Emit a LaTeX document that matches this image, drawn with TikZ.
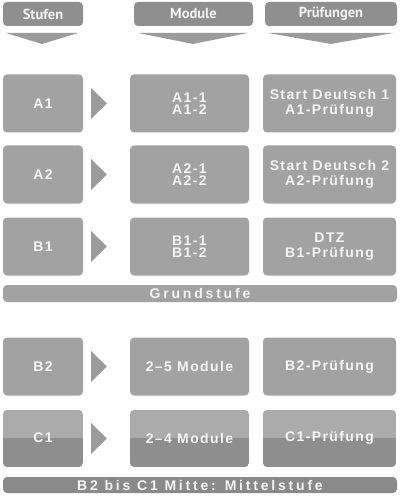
\documentclass[tikz,border=0pt]{standalone}
\usepackage{fontspec}
\setmainfont{Liberation Sans}
\newfontfamily\headfont{PT Sans}
\newfontfamily\bodyfont{Liberation Sans}[LetterSpace=10]
\newfontfamily\barfont{Liberation Sans}[LetterSpace=20]
\definecolor{boxgray}{HTML}{A2A2A2}
\definecolor{headgray}{HTML}{8F8F8F}
\definecolor{trigray}{HTML}{9B9B9B}
\definecolor{ctop}{HTML}{ABABAB}
\definecolor{cbot}{HTML}{8E8E8E}
\definecolor{bardark}{HTML}{8A8A8A}
\definecolor{txt}{HTML}{F4F4F4}
\begin{document}
\begin{tikzpicture}[x=1pt,y=-1pt,
  cell/.style={fill=boxgray,rounded corners=4pt,inner sep=0pt,text=txt,
    align=center,font=\bodyfont\bfseries\fontsize{14}{12.5}\selectfont},
  stcell/.style={cell,minimum width=80pt,minimum height=58pt},
  mocell/.style={cell,minimum width=119pt,minimum height=58pt},
  prcell/.style={cell,minimum width=133pt,minimum height=58pt,
    font=\bodyfont\bfseries\fontsize{14}{14.4}\selectfont},
  head/.style={fill=headgray,rounded corners=4pt,inner sep=0pt,text=txt,
    minimum height=24pt,font=\headfont\bfseries\fontsize{14.5}{14.5}\selectfont},
  bar/.style={fill=boxgray,rounded corners=4pt,inner sep=0pt,text=txt,
    minimum width=394pt,font=\barfont\bfseries\fontsize{14}{14}\selectfont},
  tri/.style={fill=trigray}]
\useasboundingbox (0,0) rectangle (400,497);
% headers
\node[head,minimum width=80pt] (hs) at (43,14) {Stufen};
\node[head,minimum width=119pt] (hm) at (193.5,14) {Module};
\node[head,minimum width=132pt] (hp) at (331,14) {Prüfungen};
\fill[tri] (6,33) -- (78,33) -- (42,44) -- cycle;
\fill[tri] (138,33) -- (248,33) -- (193,44) -- cycle;
\fill[tri] (268,33) -- (393,33) -- (331,44) -- cycle;
% rows
\foreach \yy in {103.5,174.5,246.5,366.5}{
  \fill[tri] (91,\yy-15.5) -- (107,\yy) -- (91,\yy+15.5) -- cycle;
}
\node[stcell] (sa1) at (43,103.5) {A1};
\node[mocell] (ma1) at (189.5,103.5) {A1-1\\A1-2};
\node[prcell] (pa1) at (329.5,103.5) {Start Deutsch 1\\A1-Prüfung};
\node[stcell] (sa2) at (43,174.5) {A2};
\node[mocell] (ma2) at (189.5,174.5) {A2-1\\A2-2};
\node[prcell] (pa2) at (329.5,174.5) {Start Deutsch 2\\A2-Prüfung};
\node[stcell] (sb1) at (43,246.5) {B1};
\node[mocell] (mb1) at (189.5,246.5) {B1-1\\B1-2};
\node[prcell] (pb1) at (329.5,246.5) {DTZ\\B1-Prüfung};
\node[bar,minimum height=17pt] (gs) at (200,293.5) {Grundstufe};
\node[stcell] (sb2) at (43,366.5) {B2};
\node[mocell] (mb2) at (189.5,366.5) {2–5 Module};
\node[prcell] (pb2) at (329.5,366.5) {B2-Prüfung};
% C1 row two-tone
\fill[tri] (91,423) -- (107,438.5) -- (91,454) -- cycle;
\foreach \cx/\w/\n/\t in {43/80/sc1/C1,189.5/119/mc1/2–4 Module,329.5/133/pc1/C1-Prüfung}{
  \begin{scope}
    \clip[rounded corners=4pt] (\cx-\w/2,410) rectangle (\cx+\w/2,467);
    \fill[ctop] (\cx-\w/2,410) rectangle (\cx+\w/2,438);
    \fill[cbot] (\cx-\w/2,438) rectangle (\cx+\w/2,467);
  \end{scope}
  \node[cell,fill=none,minimum width=\w pt,minimum height=57pt] (\n) at (\cx,438) {\t};
}
\node[bar,fill=bardark,minimum height=16pt] (ms) at (200,485) {B2 bis C1 Mitte: Mittelstufe};
\end{tikzpicture}
\end{document}
